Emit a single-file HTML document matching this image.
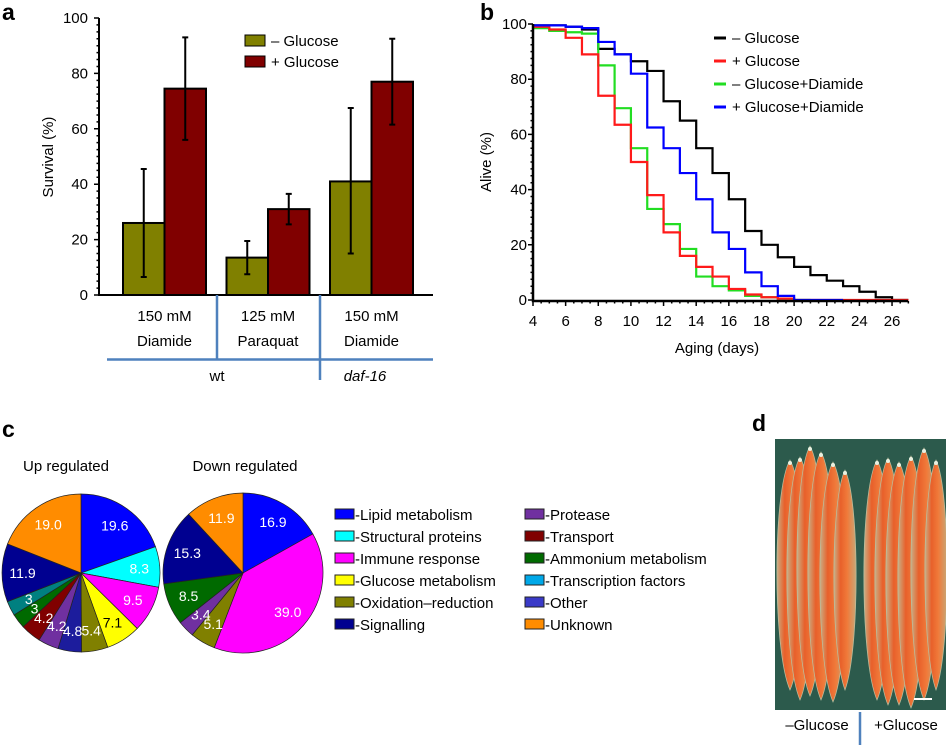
<!DOCTYPE html>
<html><head><meta charset="utf-8"><style>
body{margin:0;background:#fff;}
svg text{font-family:"Liberation Sans",Arial,sans-serif;}
</style></head><body>
<svg id="fig" width="946" height="745" viewBox="0 0 946 745" xmlns="http://www.w3.org/2000/svg">
<g id="pa"></g>
<g id="pb"></g>
<g id="pc"></g>
<g id="pd"></g>
</svg>
<script>
// ---- Panel a data
const aGroups = ["150 mM|Diamide","125 mM|Paraquat","150 mM|Diamide"];
const aMinus = [26, 13.5, 41];
const aPlus = [74.5, 31, 77];
const aMinusLo = [6.5, 7.5, 15];
const aMinusHi = [45.5, 19.5, 67.5];
const aPlusLo = [56, 25.5, 61.5];
const aPlusHi = [93, 36.5, 92.5];
const aTicks = [0,20,40,60,80,100];
// ---- Panel b data
const bDays = [4,5,6,7,8,9,10,11,12,13,14,15,16,17,18,19,20,21,22,23,24,25,26];
const bBlack = [99.5,99.5,99,98,91,89,86.5,83,72,65,55,46,36.5,25,20,15.5,12,9,7,5,3,1,0];
const bRed = [99,98,95,89,74,63.5,50,38,24.5,16,12,8.5,4,2,1,0.5,0,0,0,0,0,0,0];
const bGreen = [98.5,97.5,97,96.5,85,69.5,55,33,27.5,18.5,8.5,5,3.5,1.5,1,0.5,0,null,null,null,null,null,null];
const bBlue = [99.5,99.5,99,98.5,93.5,89,82,62.5,55,46,36.5,24.5,18.5,10,5,1.5,0,0,0,null,null,null,null];
const bXTicks = [4,6,8,10,12,14,16,18,20,22,24,26];
const bYTicks = [0,20,40,60,80,100];
// ---- Panel c data
const cUpValues = [19.6,8.3,9.5,7.1,5.4,4.8,4.2,4.2,3,3,11.9,19.0];
const cUpLabels = ["19.6","8.3","9.5","7.1","5.4","4.8","4.2","4.2","3","3","11.9","19.0"];
const cUpCats = [0,1,2,3,4,10,6,7,8,12,5,11];
const cDownValues = [16.9,39.0,5.1,3.4,8.5,15.3,11.9];
const cDownLabels = ["16.9","39.0","5.1","3.4","8.5","15.3","11.9"];
const cDownCats = [0,2,4,6,8,5,11];
const cCategories = ["-Lipid metabolism","-Structural proteins","-Immune response","-Glucose metabolism","-Oxidation\u2013reduction","-Signalling","-Protease","-Transport","-Ammonium metabolism","-Transcription factors","-Other","-Unknown"];
const cColors = ["#0000ff","#00ffff","#ff00ff","#ffff00","#808000","#000090","#7030a0","#800000","#006a00","#00a8e8","#1c1c9c","#ff8c00","#008080"];

const NS="http://www.w3.org/2000/svg";
function mk(parent,tag,attrs,txt){const e=document.createElementNS(NS,tag);for(const k in attrs)e.setAttribute(k,attrs[k]);if(txt!==undefined)e.textContent=txt;parent.appendChild(e);return e;}

// ===== Panel A
(function(){
const g=document.getElementById('pa');
const y=v=>295-v*2.77;
const x0=99, gw=103.5, bw=41.5, gstart=123;
let t=mk(g,'text',{x:2,y:20,'font-size':23,'font-weight':'bold'},'a');

for(let i=0;i<aGroups.length;i++){
  const gx=gstart+i*gw;
  let r=mk(g,'rect',{x:gx,y:y(aMinus[i]),width:bw,height:295-y(aMinus[i]),fill:'#808000',stroke:'#000','stroke-width':2});
  
  r=mk(g,'rect',{x:gx+bw,y:y(aPlus[i]),width:bw,height:295-y(aPlus[i]),fill:'#800000',stroke:'#000','stroke-width':2});
  
  [[gx+bw/2,aMinusLo[i],aMinusHi[i]],[gx+bw*1.5,aPlusLo[i],aPlusHi[i]]].forEach(([cx,lo,hi])=>{
    const e=mk(g,'path',{d:`M${cx},${y(lo)}V${y(hi)}M${cx-3},${y(lo)}h6M${cx-3},${y(hi)}h6`,stroke:'#000','stroke-width':2,fill:'none'});
    
  });
  const parts=aGroups[i].split('|');
  const cx=gx+bw;
  t=mk(g,'text',{x:cx,y:321,'font-size':15,'text-anchor':'middle'},parts[0]);
  
  t=mk(g,'text',{x:cx,y:346,'font-size':15,'text-anchor':'middle'},parts[1]);
  
}
let ax=mk(g,'path',{d:`M${x0},18V295H433`,stroke:'#000','stroke-width':2,fill:'none'});

let tk='';for(let v=0;v<=100;v+=2.5){tk+=`M${x0-(v%20===0?5:2.5)},${y(v)}H${x0}`;}
mk(g,'path',{d:tk,stroke:'#000','stroke-width':1.5});
aTicks.forEach(v=>{t=mk(g,'text',{x:88,y:y(v)+5,'font-size':15,'text-anchor':'end'},v);
  });
t=mk(g,'text',{x:53,y:157,'font-size':15,'text-anchor':'middle',transform:'rotate(-90 53 157)'},'Survival (%)');

let bl=mk(g,'path',{d:'M217,295V360M320,295V380M107,359.5H433',stroke:'#4f81bd','stroke-width':2.5,fill:'none'});

t=mk(g,'text',{x:217,y:381,'font-size':15,'text-anchor':'middle'},'wt');

t=mk(g,'text',{x:365,y:381,'font-size':15,'text-anchor':'middle','font-style':'italic'},'daf-16');

[['#808000','\u2013 Glucose',35],['#800000','+ Glucose',56]].forEach(([c,l,yy])=>{
  let r=mk(g,'rect',{x:245,y:yy,width:20,height:11,fill:c,stroke:'#000','stroke-width':1});
  
  let tt=mk(g,'text',{x:271,y:yy+11,'font-size':15},l);
  
});
})();

// ===== Panel B
(function(){
const g=document.getElementById('pb');
const x=d=>533+(d-4)*16.32;
const y=v=>300-v*2.76;
let t=mk(g,'text',{x:480,y:20,'font-size':23,'font-weight':'bold'},'b');

function step(vals,color,name,endDay){
  let d='';let last=null;
  for(let i=0;i<bDays.length;i++){
    const v=vals[i]; if(v===null||v===undefined)break;
    const dd=bDays[i];
    if(d==='')d=`M${x(dd)},${y(v)}`; else d+=`V${y(v)}`;
    d+=`H${x(dd+1)}`; last=dd+1;
  }
  if(endDay&&last<endDay)d+=`H${x(endDay)}`;
  const p=mk(g,'path',{d:d,stroke:color,'stroke-width':2.2,fill:'none'});
  
}
step(bBlack,'#000','line-minus-glucose');
step(bGreen,'#22dd22','line-minus-glucose-diamide');
step(bRed,'#ff1a1a','line-plus-glucose',27);
step(bBlue,'#0000ff','line-plus-glucose-diamide');
let ax=mk(g,'path',{d:`M533,24V301H908`,stroke:'#000','stroke-width':2.5,fill:'none'});

let tk='';
for(let v=0;v<=100;v+=2.5)tk+=`M${533-(v%20===0?5:2.5)},${y(v)}H533`;
for(let d=4;d<=27;d+=0.5)tk+=`M${x(d)},301V${301+(d%2===0?5:2.5)}`;
mk(g,'path',{d:tk,stroke:'#000','stroke-width':1.5});
bYTicks.forEach(v=>{t=mk(g,'text',{x:527,y:y(v)+5,'font-size':15,'text-anchor':'end'},v);
  });
bXTicks.forEach(d=>{t=mk(g,'text',{x:x(d),y:326,'font-size':15,'text-anchor':'middle'},d);
  });
t=mk(g,'text',{x:717,y:353,'font-size':15,'text-anchor':'middle'},'Aging (days)');

t=mk(g,'text',{x:491,y:162,'font-size':15,'text-anchor':'middle',transform:'rotate(-90 491 162)'},'Alive (%)');

[['#000','\u2013 Glucose',38],['#ff1a1a','+ Glucose',61],['#22dd22','\u2013 Glucose+Diamide',84],['#0000ff','+ Glucose+Diamide',107]].forEach(([c,l,yy])=>{
  mk(g,'path',{d:`M714,${yy}h12`,stroke:c,'stroke-width':3});
  let tt=mk(g,'text',{x:732,y:yy+5,'font-size':15},l);
  
});
})();

// ===== Panel C
(function(){
const g=document.getElementById('pc');
let t=mk(g,'text',{x:2,y:437,'font-size':23,'font-weight':'bold'},'c');

t=mk(g,'text',{x:66,y:471,'font-size':15,'text-anchor':'middle'},'Up regulated');

t=mk(g,'text',{x:245,y:471,'font-size':15,'text-anchor':'middle'},'Down regulated');

function pie(vals,labels,cats,cx,cy,r,name){
  const tot=vals.reduce((a,b)=>a+b,0);let a0=0;
  vals.forEach((v,i)=>{
    const a1=a0+v/tot*2*Math.PI;
    const p=(a)=>[cx+r*Math.sin(a),cy-r*Math.cos(a)];
    const [x1,y1]=p(a0),[x2,y2]=p(a1);
    const s=mk(g,'path',{d:`M${cx},${cy}L${x1},${y1}A${r},${r} 0 ${a1-a0>Math.PI?1:0} 1 ${x2},${y2}Z`,fill:cColors[cats[i]],stroke:'#222','stroke-width':0.7});
    
    const am=(a0+a1)/2, lr=r*0.74;
    const tt=mk(g,'text',{x:cx+lr*Math.sin(am),y:cy-lr*Math.cos(am)+5,'font-size':14,'text-anchor':'middle',fill:cats[i]===3?'#000':'#fff'},labels[i]);
    
    a0=a1;
  });
}
pie(cUpValues,cUpLabels,cUpCats,81,573,79,'up-pie');
pie(cDownValues,cDownLabels,cDownCats,243,573,80,'down-pie');
cCategories.forEach((c,i)=>{
  const col=Math.floor(i/6),row=i%6;
  const rx=col?525:335, ry=509+row*22;
  let r=mk(g,'rect',{x:rx,y:ry,width:19,height:10,fill:i===10?'#3a3ac8':cColors[i],stroke:'#222','stroke-width':1});
  
  let tt=mk(g,'text',{x:rx+20,y:ry+11,'font-size':15},c);
  
});
})();

// ===== Panel D
(function(){
const g=document.getElementById('pd');
let t=mk(g,'text',{x:752,y:431,'font-size':23,'font-weight':'bold'},'d');

const defs=mk(g,'defs',{});
const lg=mk(defs,'linearGradient',{id:'wg',x1:0,x2:1,y1:0,y2:0});
mk(lg,'stop',{offset:'0','stop-color':'#c8b088'});
mk(lg,'stop',{offset:'0.3','stop-color':'#e8602a'});
mk(lg,'stop',{offset:'0.6','stop-color':'#f07a3a'});
mk(lg,'stop',{offset:'1','stop-color':'#c8a878'});
let bg=mk(g,'rect',{x:775,y:439,width:171,height:271,fill:'#2c5a4c'});

const worms=[[790,460,690,13],[800,457,700,13],[810,446,696,13],[821,452,700,13],[833,462,702,13],[845,470,690,11],
             [877,460,700,13],[888,458,705,13],[899,462,705,13],[911,456,708,13],[924,448,700,13],[936,460,690,11]];
worms.forEach(([cx,top,bot,hw])=>{
  const e=mk(g,'path',{d:`M${cx},${top}C${cx+hw*1.35},${top+30} ${cx+hw*1.35},${bot-40} ${cx},${bot}C${cx-hw*1.35},${bot-40} ${cx-hw*1.35},${top+30} ${cx},${top}Z`,fill:'url(#wg)',stroke:'#b9c0a0','stroke-width':0.7});
  
  mk(g,'circle',{cx:cx,cy:top+3,r:2,fill:'#e8f0e0'});
});
mk(g,'path',{d:'M914,699h18',stroke:'#fff','stroke-width':2});
t=mk(g,'text',{x:817,y:730,'font-size':15,'text-anchor':'middle'},'\u2013Glucose');

t=mk(g,'text',{x:906,y:730,'font-size':15,'text-anchor':'middle'},'+Glucose');

mk(g,'path',{d:'M860,712V745',stroke:'#4f81bd','stroke-width':2.5});
})();
</script>
</body></html>
